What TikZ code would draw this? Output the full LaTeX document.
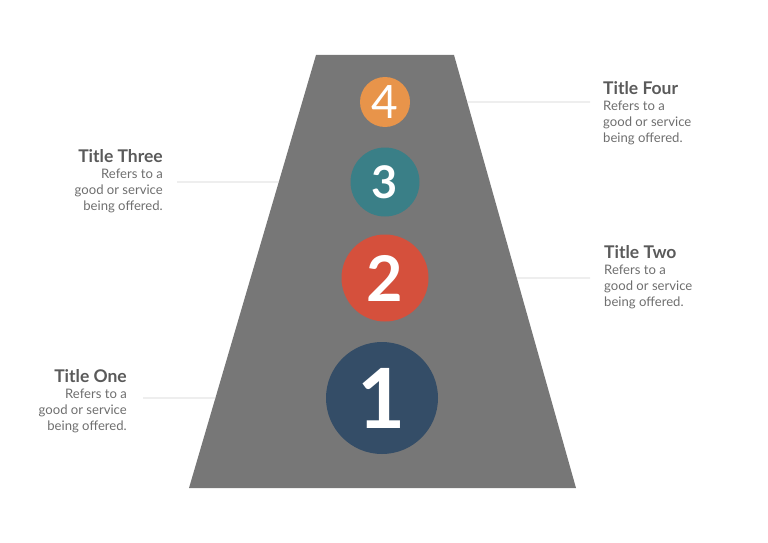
\documentclass[tikz,border=0pt]{standalone}
\usepackage{fontspec}
\setmainfont{Lato}
\usepackage{tikz}
\usetikzlibrary{
	positioning,
	calc
}

\definecolor{stepgray}{HTML}{777777}
\definecolor{oneblue}{HTML}{344D67}
\definecolor{twored}{HTML}{D5503C}
\definecolor{threeteal}{HTML}{3A7F87}
\definecolor{fourorange}{HTML}{E8944A}
\definecolor{titlegray}{HTML}{5A5A5A}
\definecolor{bodygray}{HTML}{6E6E6E}
\definecolor{rulegray}{HTML}{CFCFCF}

\begin{document}
\begin{tikzpicture}[
			x=1pt,y=-1pt,
			num/.style={
				circle,
				inner sep=0pt,
				text=white
			},
			title/.style={
				inner sep=0pt,
				text=titlegray,
				font=\fontsize{17.5}{19}\selectfont\bfseries
			},
			body/.style={
				inner sep=0pt,
				text=bodygray,
				font=\fontsize{13.1}{16}\selectfont
			},
			rule/.style={draw=rulegray,line width=0.8pt}
			]
			
			\useasboundingbox (0,0) rectangle (768,543);
			
			% the step
			\coordinate (tl) at (316,55);
			\coordinate (tr) at (454,55);
			\coordinate (br) at (576,488);
			\coordinate (bl) at (189,488);
			\fill[stepgray] (tl)--(tr)--(br)--(bl)--cycle;
			
			% numbers
			\node[num,fill=oneblue,minimum size=112pt,
				font=\fontsize{83}{83}\selectfont\bfseries] (one) at (382,398) {1};
			\node[num,fill=twored,minimum size=87pt,
				font=\fontsize{63}{63}\selectfont\bfseries] (two) at (385,278) {2};
			\node[num,fill=threeteal,minimum size=69pt,
				font=\fontsize{45}{45}\selectfont\bfseries] (three) at (385,182) {3};
			\node[num,fill=fourorange,minimum size=50pt,
				font=\fontsize{46}{46}\selectfont] (four) at (385,102) {4};
			
			% labels
			\node[title,anchor=base east] (t3) at (163,162) {Title Three};
			\node[body,align=right,below=6.5pt of t3.south east,anchor=north east] (b3)
			{Refers to a\\good or service\\being offered.};
			
			\node[title,anchor=base west] (t4) at (603,94) {Title Four};
			\node[body,align=left,below=6.5pt of t4.south west,anchor=north west] (b4)
			{Refers to a\\good or service\\being offered.};
			
			\node[title,anchor=base west] (t2) at (604,258) {Title Two};
			\node[body,align=left,below=6.5pt of t2.south west,anchor=north west] (b2)
			{Refers to a\\good or service\\being offered.};
			
			\node[title,anchor=base east] (t1) at (127,382) {Title One};
			\node[body,align=right,below=6.5pt of t1.south east,anchor=north east] (b1)
			{Refers to a\\good or service\\being offered.};
			
			% rules to the step
			\coordinate (r3) at (177,182);
			\coordinate (e3) at ($(tl)!0.2933!(bl)$);
			\coordinate (r4) at (590,102);
			\coordinate (e4) at ($(tr)!0.1085!(br)$);
			\coordinate (r2) at (590,278);
			\coordinate (e2) at ($(tr)!0.5150!(br)$);
			\coordinate (r1) at (143,398);
			\coordinate (e1) at ($(tl)!0.7921!(bl)$);
			
			\draw[rule] (r3)--(e3);
			\draw[rule] (e4)--(r4);
			\draw[rule] (e2)--(r2);
			\draw[rule] (r1)--(e1);
			
		\end{tikzpicture}
\end{document}
